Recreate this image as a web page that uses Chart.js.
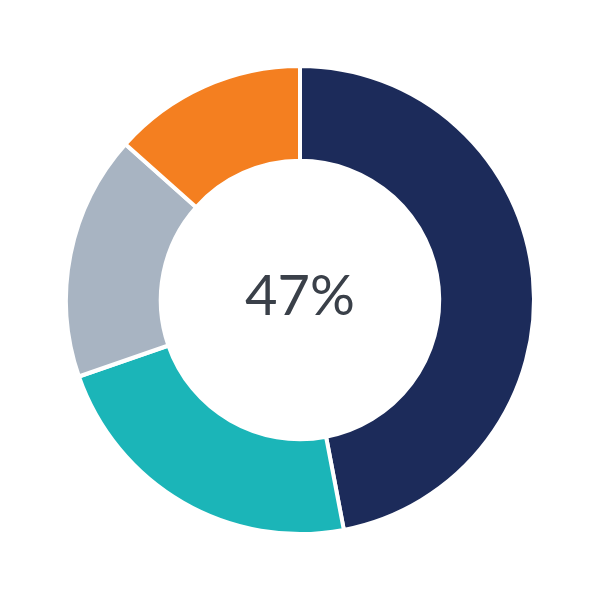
<!DOCTYPE html>
<html>
<head>
<meta charset="utf-8">
<script src="https://cdn.jsdelivr.net/npm/chart.js@4/dist/chart.umd.min.js"></script>
<style>
  html, body { margin: 0; padding: 0; background: #ffffff; }
  #wrap { width: 600px; height: 600px; }
</style>
</head>
<body>
<div id="wrap"><canvas id="grafica" width="600" height="600"></canvas></div>
<script>
// datos del gráfico
const categorias = ["A", "B", "C", "D"];
const valores = [47, 22.7, 16.9, 13.4];
const colores = ["#1c2b5a", "#1bb5b8", "#a8b4c2", "#f47f20"];
const textoCentro = "47%";

// texto en el centro del anillo
const textoCentral = {
  id: "textoCentral",
  afterDraw(chart) {
    const meta = chart.getDatasetMeta(0);
    if (!meta.data.length) return;
    const arc = meta.data[0];
    const ctx = chart.ctx;
    ctx.save();
    ctx.font = "400 56px Lato";
    ctx.fillStyle = "#3a4049";
    ctx.textAlign = "center";
    ctx.textBaseline = "middle";
    ctx.fillText(textoCentro, arc.x, arc.y - 3);
    ctx.restore();
  }
};

new Chart(document.getElementById("grafica"), {
  type: "doughnut",
  data: {
    labels: categorias,
    datasets: [{
      data: valores,
      backgroundColor: colores,
      borderColor: "#ffffff",
      borderWidth: 4
    }]
  },
  options: {
    responsive: false,
    animation: false,
    cutout: "59.5%",
    layout: { padding: 64 },
    plugins: {
      legend: { display: false },
      tooltip: { enabled: false }
    }
  },
  plugins: [textoCentral]
});
</script>
</body>
</html>
